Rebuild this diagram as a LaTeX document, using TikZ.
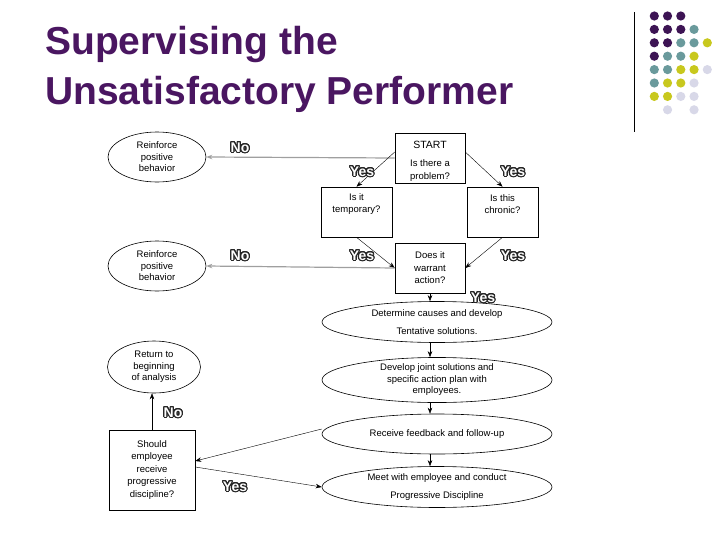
\documentclass[tikz,border=0pt]{standalone}
\usepackage{fontspec}
\setmainfont{Liberation Sans}
\usepackage{contour}
\usetikzlibrary{shapes.geometric,arrows.meta}
\definecolor{ttl}{HTML}{4A1661}
\definecolor{cP}{HTML}{3D1454}
\definecolor{cT}{HTML}{6A9A9C}
\definecolor{cY}{HTML}{C8C81E}
\definecolor{cL}{HTML}{D8D8E8}
\contourlength{1.1pt}
\contournumber{24}
\tikzset{
 box/.style={draw,semithick,minimum width=71pt,minimum height=50pt,inner sep=0pt,align=center,font=\fontsize{9.5}{12.5}\selectfont},
 ell/.style={draw,ellipse,semithick,inner sep=0pt,align=center,font=\fontsize{9.5}{11.5}\selectfont},
 txt/.style={font=\fontsize{9.5}{12.5}\selectfont,align=center,inner sep=0pt},
 arr/.style={-{Stealth[length=6pt,width=4.5pt]},thin},
 garr/.style={-{Stealth[length=6pt,width=4.5pt]},line width=1.2pt,draw=gray!75},
 lab/.style={font=\bfseries\fontsize{14}{14}\selectfont,inner sep=0pt}
}
\newcommand{\otxt}[1]{\contour{black!85}{\textcolor{white}{#1}}}
\begin{document}
\begin{tikzpicture}[x=1pt,y=-1pt]
\useasboundingbox (0,0) rectangle (728,546);
\node[anchor=base west,text=ttl,font=\bfseries\fontsize{39}{39}\selectfont,inner sep=0pt] (t1) at (45,54) {Supervising the};
\node[anchor=base west,text=ttl,font=\bfseries\fontsize{39}{39}\selectfont,inner sep=0pt] (t2) at (45,104) {Unsatisfactory Performer};
\draw[line width=1pt] (634,12) -- (634,132);
\foreach \row/\cols in {0/{0/cP,1/cP,2/cP},1/{0/cP,1/cP,2/cP,3/cT},2/{0/cP,1/cP,2/cT,3/cT,4/cY},3/{0/cP,1/cT,2/cT,3/cY},4/{0/cT,1/cT,2/cY,3/cY,4/cL},5/{0/cT,1/cY,2/cY,3/cL},6/{0/cY,1/cY,2/cL,3/cL},7/{1/cL,3/cL}}
 \foreach \c/\col in \cols
  \fill[\col] (654.3+13.25*\c,16+13.4*\row) circle (4.6);
\node[box,minimum width=70pt] (start) at (430,158) {};
\node[txt,font=\fontsize{10.5}{10.5}\selectfont] (st) at (430,145) {START};
\node[txt] (stq) at (430,170.5) {Is there a\\problem?};
\node[box] (temp) at (356.5,212) {};
\node[txt] (tempt) at (356.5,204) {Is it\\temporary?};
\node[box] (chron) at (502.5,212) {};
\node[txt] (chront) at (502.5,204) {Is this\\chronic?};
\node[box,minimum width=70pt] (warr) at (430,268) {Does it\\warrant\\action?};
\node[ell,minimum width=98pt,minimum height=50pt] (r1) at (157,157) {Reinforce\\positive\\behavior};
\node[ell,minimum width=98pt,minimum height=50pt] (r2) at (157,266) {Reinforce\\positive\\behavior};
\node[ell,minimum width=230pt,minimum height=41pt,font=\fontsize{9.5}{18}\selectfont] (e1) at (437,322) {Determine causes and develop\\Tentative solutions.};
\node[ell,minimum width=230pt,minimum height=44pt] (e2) at (437,380) {Develop joint solutions and\\specific action plan with\\employees.};
\node[ell,minimum width=230pt,minimum height=40pt] (e3) at (437,434) {Receive feedback and follow-up};
\node[ell,minimum width=230pt,minimum height=41pt,font=\fontsize{9.5}{18}\selectfont] (e4) at (437,487) {Meet with employee and conduct\\Progressive Discipline};
\node[ell,minimum width=93pt,minimum height=52pt] (ret) at (154,367) {Return to\\beginning\\of analysis};
\node[box,minimum width=86pt,minimum height=80pt] (sh) at (152,470) {Should\\employee\\receive\\progressive\\discipline?};
\draw[garr] (start.west) -- (r1.east);
\draw[arr] (start.west) ++(0,-6) coordinate (sw) -- (temp.north);
\draw[arr] (start.east) ++(0,-6) coordinate (se) -- (chron.north);
\draw[arr] (temp.south) -- (warr.west);
\draw[arr] (chron.south) -- (warr.east);
\draw[garr] (warr.west) -- (r2.east);
\draw[arr] (warr.south) -- (e1.north -| warr.south);
\draw[arr] (e1.south -| warr.south) -- (e2.north -| warr.south);
\draw[arr] (e2.south -| warr.south) -- (e3.north -| warr.south);
\draw[arr] (e3.south -| warr.south) -- (e4.north -| warr.south);
\draw[arr] (e3.west) ++(0,-5) coordinate (e3w) -- (sh.east |- 0,461);
\draw[arr] (sh.east |- 0,467) -- (e4.west);
\draw[arr] (sh.north) -- (ret.south -| sh.north);
\node[lab] (n1) at (240,148) {\otxt{No}};
\node[lab] (n2) at (240,256) {\otxt{No}};
\node[lab] (n3) at (173,413) {\otxt{No}};
\node[lab] (y1) at (362,172) {\otxt{Yes}};
\node[lab] (y2) at (513,172) {\otxt{Yes}};
\node[lab] (y3) at (362,256) {\otxt{Yes}};
\node[lab] (y4) at (513,256) {\otxt{Yes}};
\node[lab] (y5) at (483,298) {\otxt{Yes}};
\node[lab] (y6) at (235,487) {\otxt{Yes}};
\end{tikzpicture}
\end{document}
